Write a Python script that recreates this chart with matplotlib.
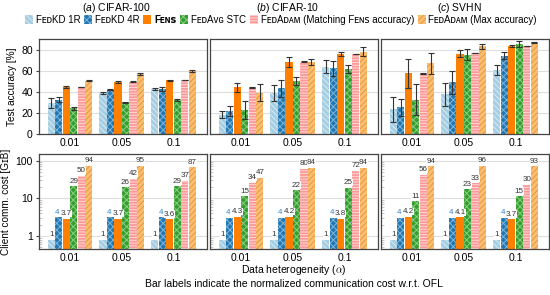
import numpy as np
import matplotlib
matplotlib.use("Agg")
import matplotlib.pyplot as plt
from matplotlib.patches import Patch

plt.rcParams["font.family"] = ["Liberation Sans", "DejaVu Sans"]
plt.rcParams["mathtext.fontset"] = "custom"
plt.rcParams["mathtext.rm"] = "Liberation Sans"
plt.rcParams["mathtext.it"] = "Liberation Sans:italic"
plt.rcParams["hatch.linewidth"] = 0.7

# DATA
alphas = ["0.01", "0.05", "0.1"]
datasets = ["CIFAR-100", "CIFAR-10", "SVHN"]
panel_tags = ["(a)", "(b)", "(c)"]
methods = ["FᴇᴅKD 1R", "FᴇᴅKD 4R", "Fᴇɴꜱ", "FᴇᴅAᴠɢ STC",
           "FᴇᴅAᴅᴀᴍ (Matching Fᴇɴꜱ accuracy)", "FᴇᴅAᴅᴀᴍ (Max accuracy)"]

# test accuracy [%], rows = alpha, cols = method
acc_cifar100 = [[29.0, 32.3, 44.5, 24.5, 44.5, 50.5],
                [38.9, 42.0, 49.2, 30.1, 49.5, 56.7],
                [42.3, 42.6, 51.1, 32.0, 51.1, 59.9]]
err_cifar100 = [[4.7, 2.4, 0.5, 1.5, 0.3, 0.7],
                [1.2, 0.5, 1.2, 0.5, 0.3, 0.7],
                [1.0, 1.5, 0.5, 0.8, 0.3, 1.0]]
acc_cifar10 = [[18.2, 21.6, 44.2, 22.6, 44.2, 39.2],
               [39.2, 43.3, 68.1, 50.2, 68.4, 68.1],
               [63.7, 62.4, 75.6, 61.8, 75.9, 78.1]]
err_cifar10 = [[3.5, 4.7, 4.0, 8.5, 0.3, 8.0],
               [7.5, 8.0, 5.0, 4.0, 0.3, 3.0],
               [6.0, 7.0, 2.0, 4.0, 0.3, 4.0]]
acc_svhn = [[23.5, 25.4, 57.4, 32.3, 57.4, 66.8],
            [37.6, 48.9, 76.2, 75.2, 76.8, 83.1],
            [60.8, 74.3, 83.4, 85.3, 83.4, 87.1]]
err_svhn = [[11.8, 8.0, 14.0, 14.6, 0.3, 10.3],
            [11.0, 11.0, 3.0, 5.0, 0.3, 2.2],
            [5.0, 3.6, 1.0, 2.7, 0.3, 0.5]]

# client communication cost [GiB]
cost_cifar100 = [[0.78, 3.1, 2.85, 21.0, 39.0, 72.0],
                 [0.78, 3.1, 2.85, 19.5, 33.0, 72.0],
                 [0.78, 3.1, 2.8, 21.0, 29.0, 67.0]]
cost_cifar10 = [[0.78, 3.07, 3.26, 11.3, 25.5, 35.5],
                [0.78, 3.07, 3.2, 16.5, 61.0, 64.0],
                [0.78, 3.07, 2.9, 19.0, 54.0, 64.0]]
cost_svhn = [[0.78, 3.07, 3.2, 8.4, 42.5, 71.5],
             [0.78, 3.07, 3.1, 17.5, 25.0, 73.0],
             [0.78, 3.07, 2.8, 11.4, 22.8, 70.5]]

# bar labels: cost normalized w.r.t. OFL
norm_cifar100 = [["1", "4", "3.7", "29", "50", "94"],
                 ["1", "4", "3.7", "26", "42", "95"],
                 ["1", "4", "3.6", "29", "37", "87"]]
norm_cifar10 = [["1", "4", "4.3", "15", "34", "47"],
                ["1", "4", "4.2", "22", "80", "84"],
                ["1", "4", "3.8", "25", "72", "84"]]
norm_svhn = [["1", "4", "4.2", "11", "56", "94"],
             ["1", "4", "4.1", "23", "33", "96"],
             ["1", "4", "3.7", "15", "30", "93"]]

accs = [acc_cifar100, acc_cifar10, acc_svhn]
errs = [err_cifar100, err_cifar10, err_svhn]
costs = [cost_cifar100, cost_cifar10, cost_svhn]
norms = [norm_cifar100, norm_cifar10, norm_svhn]

colors = ["#a6cee3", "#1f78b4", "#ff7f00", "#33a02c", "#fb9a99", "#fdbf6f"]
hatches = ["\\\\\\\\\\\\", "xxxxx", "", "xxxxx", "------", "//////"]
hatch_ec = [(1, 1, 1, 0.55), (1, 1, 1, 0.45), (1, 1, 1, 0), (1, 1, 1, 0.45),
            (1, 1, 1, 0.6), (0.8, 0.5, 0.15, 0.6)]

W, H = 550, 295
fig = plt.figure(figsize=(W / 100, H / 100), dpi=100)

x_left = [39, 210, 381]
pw = 168
rows = [(39, 134), (154, 249)]

x = np.arange(len(alphas))
bw = 0.14
step = 0.145


def add_ax(col, row):
    top, bot = rows[row]
    return fig.add_axes([x_left[col] / W, 1 - bot / H, pw / W, (bot - top) / H])


def style(ax, col):
    for s in ax.spines.values():
        s.set_color("#444444")
        s.set_linewidth(0.9)
    ax.set_xlim(-0.6, 2.65)
    ax.set_xticks(x)
    ax.set_xticklabels(alphas, fontsize=7.5)
    ax.tick_params(axis="x", length=0, pad=3)
    ax.grid(axis="y", color="#dddddd", linewidth=0.8)
    ax.set_axisbelow(True)
    if col == 0:
        ax.tick_params(axis="y", labelsize=7.5, length=2.5, color="#444444", pad=2)
    else:
        ax.tick_params(axis="y", which="both", labelleft=False, length=0)


# accuracy row
for col in range(3):
    ax = add_ax(col, 0)
    acc = np.array(accs[col])
    err = np.array(errs[col])
    for m in range(len(methods)):
        ax.bar(x + (m - 2.5) * step, acc[:, m], bw, color=colors[m],
               hatch=hatches[m], edgecolor=hatch_ec[m], linewidth=0,
               yerr=err[:, m], error_kw=dict(ecolor="#333333", elinewidth=0.8,
                                               capsize=2, capthick=0.8))
    ax.set_ylim(0, 90)
    ax.set_yticks([0, 20, 40, 60, 80])
    style(ax, col)
    cx = (x_left[col] + pw / 2 - 6) / W
    fig.text(cx, 1 - 8 / H, r"$\it{" + panel_tags[col] + "}$ " + datasets[col],
             ha="center", va="center", fontsize=7.5)
    if col == 0:
        ax.set_ylabel("Test accuracy [%]", fontsize=7.2, labelpad=3)

# communication cost row
for col in range(3):
    ax = add_ax(col, 1)
    cost = np.array(costs[col])
    for m in range(len(methods)):
        xs = x + (m - 2.5) * step
        ax.bar(xs, cost[:, m], bw, color=colors[m], hatch=hatches[m],
               edgecolor=hatch_ec[m], linewidth=0)
        for i in range(len(alphas)):
            lab = norms[col][i][m]
            tc = "#3a86c8" if m == 1 else "#333333"
            dx = -0.03 if m == 1 else 0
            ax.text(xs[i] + dx, cost[i, m] * 1.1, lab, ha="center", va="bottom",
                    fontsize=5.8, color=tc,
                    bbox=dict(facecolor="white", edgecolor="none", pad=0.05))
    ax.set_yscale("log")
    ax.set_ylim(0.45, 150)
    ax.set_yticks([1, 10, 100])
    ax.set_yticklabels(["1", "10", "100"])
    style(ax, col)
    ax.tick_params(axis="y", which="minor", direction="in", length=2,
                   color="#bbbbbb", labelleft=False)
    if col == 0:
        ax.set_ylabel("Client comm. cost [GɪB]", fontsize=7.2, labelpad=3)

handles = [Patch(facecolor=colors[m], hatch=hatches[m], edgecolor=hatch_ec[m],
                 linewidth=0) for m in range(len(methods))]
leg = fig.legend(handles, methods, loc="center", bbox_to_anchor=(281 / W, 1 - 20 / H),
                 ncol=6, frameon=False, fontsize=7, handlelength=0.8,
                 handleheight=1.0, handletextpad=0.3, columnspacing=0.4,
                 borderaxespad=0, borderpad=0)
leg.get_texts()[2].set_fontweight("bold")

fig.text(294 / W, 1 - 270 / H, r"Data heterogeneity ($\alpha$)", ha="center",
         va="center", fontsize=7.5, math_fontfamily="cm")
fig.text(294 / W, 1 - 284 / H,
         "Bar labels indicate the normalized communication cost w.r.t. OFL",
         ha="center", va="center", fontsize=7.5)

fig.savefig("out.png", dpi=100)
